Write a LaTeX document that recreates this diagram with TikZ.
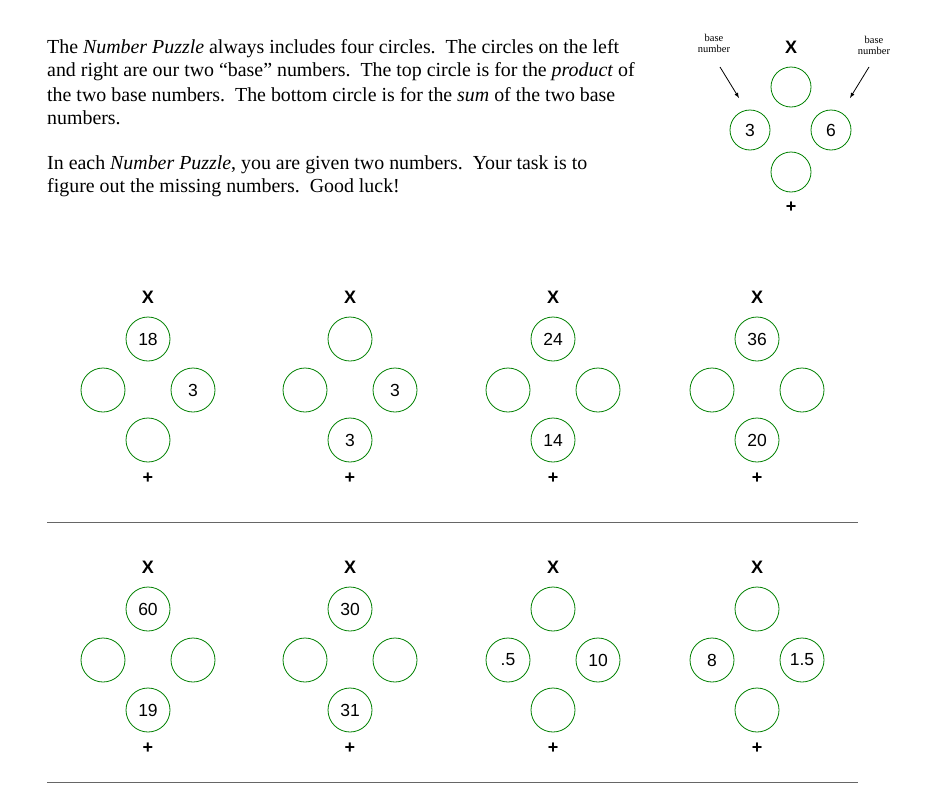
\documentclass[tikz,border=0pt]{standalone}
\usepackage{fontspec}
\setmainfont{Liberation Serif}
\newfontfamily\arial{Liberation Sans}
\begin{document}
\begin{tikzpicture}[x=1pt,y=-1pt,
  circ/.style={circle,draw=green!50!black,line width=0.8pt,minimum size=44pt,inner sep=0pt,font=\arial\fontsize{17.5}{17.5}\selectfont},
  scirc/.style={circ,minimum size=40pt},
  op/.style={font=\arial\bfseries\fontsize{18}{18}\selectfont},
  txt/.style={anchor=west,font=\fontsize{19.9}{23}\selectfont,inner sep=0pt},
  small/.style={font=\fontsize{10.5}{11}\selectfont,align=center}]
\useasboundingbox (0,0) rectangle (937,806);
\node[txt] (t1) at (47,49) {The \emph{Number Puzzle} always includes four circles.\ \ The circles on the left};
\node[txt] (t2) at (47,72) {and right are our two “base” numbers.\ \ The top circle is for the \emph{product} of};
\node[txt] (t3) at (47,95) {the two base numbers.\ \ The bottom circle is for the \emph{sum} of the two base};
\node[txt] (t4) at (47,118) {numbers.};
\node[txt] (t5) at (47,165) {In each \emph{Number Puzzle}, you are given two numbers.\ \ Your task is to};
\node[txt] (t6) at (47,188) {figure out the missing numbers.\ \ Good luck!};
% example
\node[scirc] (et) at (791,87) {};
\node[scirc] (el) at (750,130) {3};
\node[scirc] (er) at (831,130) {6};
\node[scirc] (eb) at (791,172) {};
\node[op] (ex) at (791,47) {X};
\node[op] (ep) at (791,207) {+};
\node[small] (bl) at (714,43) {base\\number};
\node[small] (br) at (874,45) {base\\number};
\coordinate (a1) at (720,67); \coordinate (a2) at (739,98);
\coordinate (b1) at (869,67); \coordinate (b2) at (850,98);
\draw[-latex,thick] (a1) -- (a2);
\draw[-latex,thick] (b1) -- (b2);
% puzzles
\foreach \cx/\cy/\T/\L/\R/\B/\n in {148/390/18//3//p1, 350/390//{}/3/3/p2, 553/390/24///14/p3, 757/390/36///20/p4,
  148/660/60///19/p5, 350/660/30///31/p6, 553/660//.5/10//p7, 757/660//8/1.5//p8}{
  \node[circ] (\n t) at (\cx,\cy-51) {\T};
  \node[circ] (\n l) at (\cx-45,\cy) {\L};
  \node[circ] (\n r) at (\cx+45,\cy) {\R};
  \node[circ] (\n b) at (\cx,\cy+50) {\B};
  \node[op] (\n x) at (\cx,\cy-93) {X};
  \node[op] (\n p) at (\cx,\cy+88) {+};
}
\coordinate (l1a) at (47,522); \coordinate (l1b) at (858,522);
\coordinate (l2a) at (47,782); \coordinate (l2b) at (858,782);
\draw[gray!80!black,line width=0.8pt] (l1a) -- (l1b);
\draw[gray!80!black,line width=0.8pt] (l2a) -- (l2b);
\end{tikzpicture}
\end{document}
